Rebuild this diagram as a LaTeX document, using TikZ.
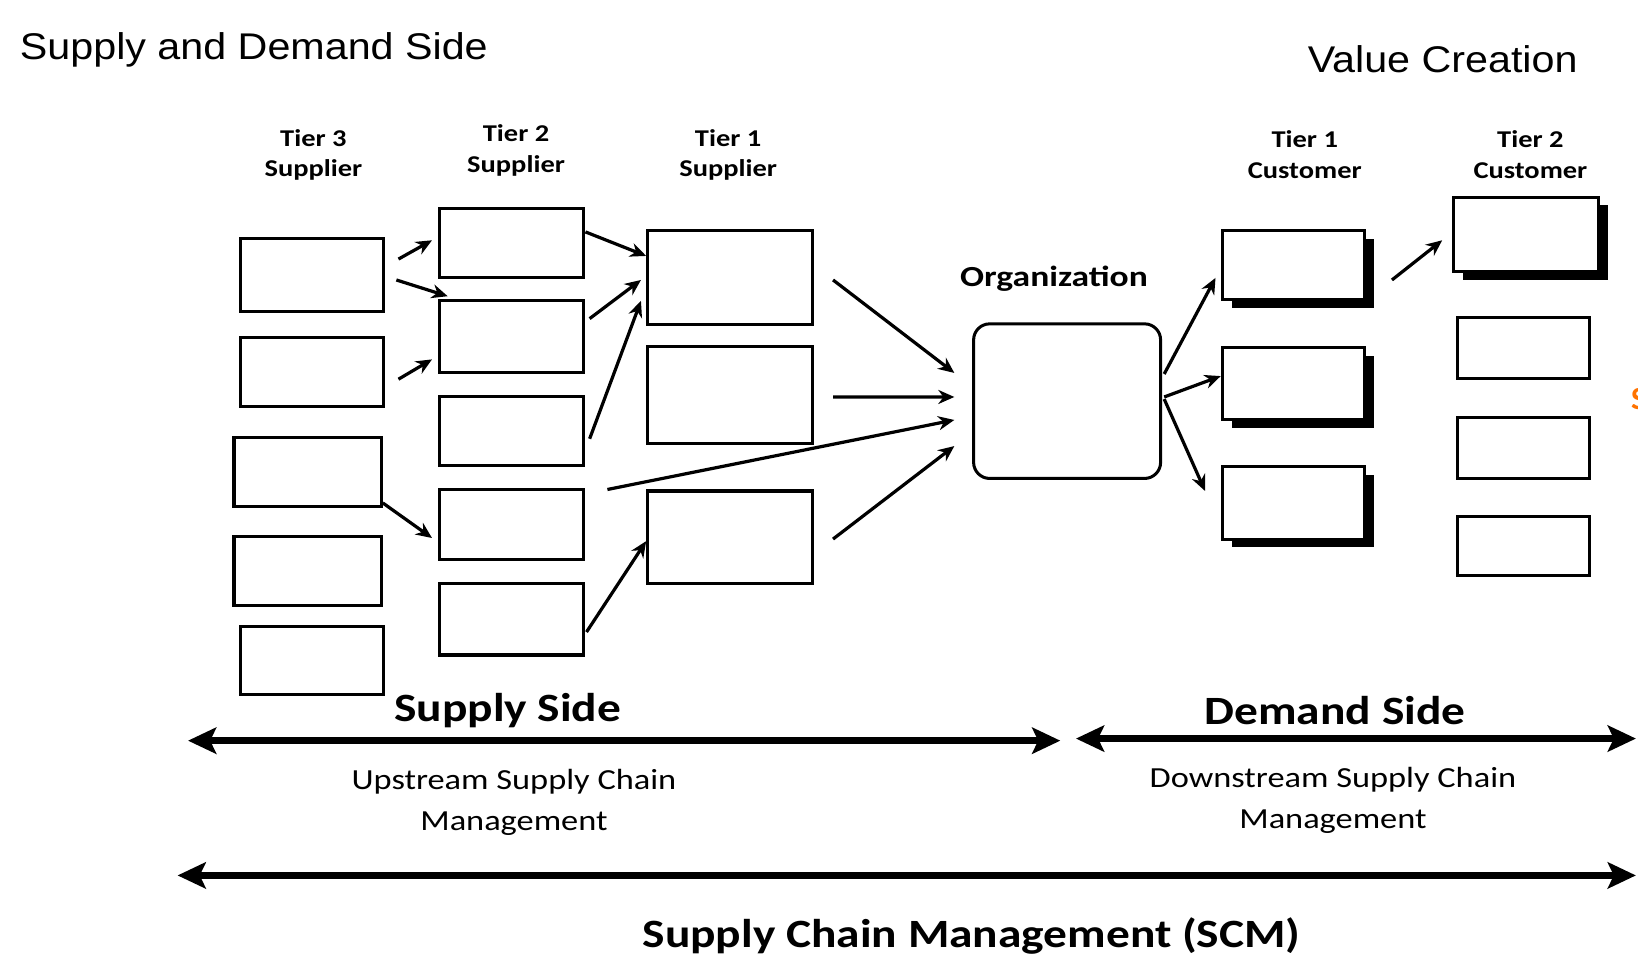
\documentclass[tikz,border=0pt]{standalone}
\usepackage{fontspec}
\setmainfont{Carlito}
\newfontfamily\arialf{Liberation Sans}
\usetikzlibrary{arrows.meta,shadows}
\begin{document}
\begin{tikzpicture}[x=0.52pt,y=-0.52pt,
  bx/.style 2 args={draw,line width=1.5pt,inner sep=0pt,minimum width={#1*0.52pt},minimum height={#2*0.52pt}},
  sh/.style={drop shadow={shadow xshift=5pt,shadow yshift=-4pt,opacity=1,fill=black}},
  arr/.style={line width=1.6pt,-{Stealth[length=8pt,width=7pt]}},
  big/.style={line width=3.2pt,{Stealth[length=14pt,width=13pt,inset=3pt]}-{Stealth[length=14pt,width=13pt,inset=3pt]}},
  wide/.style={xscale=1.18,transform shape},
  head/.style={font=\arialf\fontsize{18.5}{22}\selectfont,xscale=1.11,transform shape},
  tier/.style={font=\bfseries\fontsize{12}{15}\selectfont,align=center,wide},
  side/.style={font=\bfseries\fontsize{20}{24}\selectfont,wide},
  sub/.style={font=\fontsize{14.5}{20.5}\selectfont,align=center,wide}]
\useasboundingbox (0,0) rectangle (1568,930);
\fill[white] (0,0) rectangle (1568,930);
% headings
\node[head] (h1) at (243,48) {Supply and Demand Side};
\node[head] (h2) at (1381,57) {Value Creation};
\node[tier] (l1) at (300,148) {Tier 3\\Supplier};
\node[tier] (l2) at (494,144) {Tier 2\\Supplier};
\node[tier] (l3) at (697,148) {Tier 1\\Supplier};
\node[tier] (l4) at (1249,148) {Tier 1\\Customer};
\node[tier] (l5) at (1465,148) {Tier 2\\Customer};
\node[font=\bfseries\fontsize{14.5}{17}\selectfont,xscale=1.22,transform shape] (ol) at (1009,267) {Organization};
\node[text=orange!90!red,font=\bfseries\fontsize{16}{19}\selectfont,anchor=west,inner sep=0pt] (os) at (1561,382) {S};
% tier 3
\node[bx={137}{70}] (t3a) at (298.5,263) {};
\node[bx={137}{66}] (t3b) at (298.5,356) {};
\node[bx={141}{66}] (t3c) at (294.5,452) {};
\node[bx={141}{66}] (t3d) at (294.5,547) {};
\node[bx={137}{65}] (t3e) at (298.5,632.5) {};
% tier 2
\node[bx={138}{66}] (t2a) at (490,233) {};
\node[bx={138}{69}] (t2b) at (490,322.5) {};
\node[bx={138}{66}] (t2c) at (490,413) {};
\node[bx={138}{67}] (t2d) at (490,502.5) {};
\node[bx={138}{68}] (t2e) at (490,593) {};
% tier 1
\node[bx={158}{90}] (t1a) at (699,266) {};
\node[bx={158}{93}] (t1b) at (699,378.5) {};
\node[bx={158}{89}] (t1c) at (699,514.5) {};
% organization
\node[bx={179}{148},rounded corners=8pt] (org) at (1021.5,384) {};
% customers
\node[bx={136}{66},sh,fill=white] (c1a) at (1238,254) {};
\node[bx={136}{69},sh,fill=white] (c1b) at (1238,367.5) {};
\node[bx={136}{69},sh,fill=white] (c1c) at (1238,481.5) {};
\node[bx={139}{71},sh,fill=white] (c2a) at (1460.5,224.5) {};
\node[bx={127}{58}] (c2b) at (1458.5,333) {};
\node[bx={127}{58}] (c2c) at (1458.5,429) {};
\node[bx={127}{57}] (c2d) at (1458.5,522.5) {};
% arrows
\draw[arr] ([shift={(13,-15)}]t3a.east) -- ([shift={(-6,-3)}]t2a.west);
\draw[arr] ([shift={(11,5)}]t3a.east) -- ([shift={(9,-3)}]t2b.north west);
\draw[arr] ([shift={(13,7)}]t3b.east) -- ([shift={(-6,21.5)}]t2b.west);
\draw[arr] ([shift={(0,-5)}]t3c.south east) -- ([shift={(-6,12.5)}]t2d.west);
\draw[arr] ([shift={(0,-11)}]t2a.east) -- ([shift={(0,-21)}]t1a.west);
\draw[arr] ([shift={(4,-17.5)}]t2b.east) -- ([shift={(-5,2)}]t1a.west);
\draw[arr] ([shift={(4,7)}]t2c.east) -- ([shift={(-5,22)}]t1a.west);
\draw[arr] ([shift={(1,12)}]t2e.east) -- ([shift={(0,3.5)}]t1c.west);
\draw[arr] ([shift={(18,2)}]t1a.east) -- ([shift={(-17,-27)}]org.west);
\draw[arr] ([shift={(18,1.5)}]t1b.east) -- ([shift={(-17,-4)}]org.west);
\draw[arr] ([shift={(21,1)}]t2d.north east) -- ([shift={(-17,18)}]org.west);
\draw[arr] ([shift={(18,1.5)}]t1c.east) -- ([shift={(-17,43)}]org.west);
\draw[arr] ([shift={(2,-26)}]org.east) -- ([shift={(-5,12)}]c1a.west);
\draw[arr] ([shift={(2,-4)}]org.east) -- ([shift={(0,-7.5)}]c1b.west);
\draw[arr] ([shift={(2,-2)}]org.east) -- ([shift={(-15,-11.5)}]c1c.west);
\draw[arr] ([shift={(25,14)}]c1a.east) -- ([shift={(-9,5.5)}]c2a.west);
% bottom
\coordinate (s1) at (180,709); \coordinate (s2) at (1015,709);
\coordinate (d1) at (1030,707); \coordinate (d2) at (1566,707);
\coordinate (m1) at (170,838); \coordinate (m2) at (1566,838);
\draw[big] (s1) -- (s2);
\draw[big] (d1) -- (d2);
\draw[big] (m1) -- (m2);
\node[side] (ss) at (486,680) {Supply Side};
\node[side] (ds) at (1278,680) {Demand Side};
\node[sub] (us) at (492,768) {Upstream Supply Chain\\Management};
\node[sub] (dn) at (1276,766) {Downstream Supply Chain\\Management};
\node[side] (scm) at (930,896) {Supply Chain Management (SCM)};
\end{tikzpicture}
\end{document}
